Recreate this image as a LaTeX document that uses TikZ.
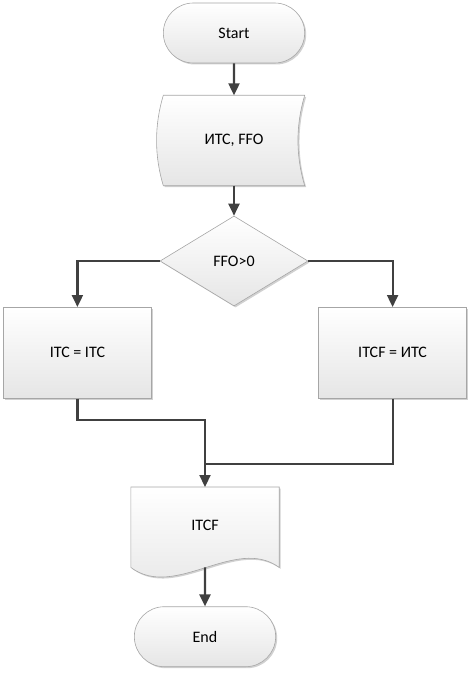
\documentclass[tikz,border=0pt]{standalone}
\usepackage{fontspec}
\setmainfont{Carlito}
\usetikzlibrary{shapes.geometric, shapes.misc, arrows.meta, positioning, calc, backgrounds, shadows}

\begin{document}
\begin{tikzpicture}[
    x=1pt, y=1pt,
    font=\fontsize{16}{19}\selectfont,
    box/.style={
        draw=gray!70,
        line width=0.6pt,
        top color=white,
        bottom color=black!10,
        drop shadow={shadow xshift=1.5pt, shadow yshift=-1.5pt, opacity=0.18, fill=black}
    },
    terminal/.style={
        box,
        rounded rectangle,
        minimum width=148pt,
        minimum height=60pt
    },
    process/.style={
        box,
        rectangle,
        minimum width=148pt,
        minimum height=91pt
    },
    decision/.style={
        box,
        diamond,
        minimum width=148pt,
        minimum height=90pt,
        inner sep=0pt
    },
    holder/.style={rectangle, inner sep=0pt},
    flowline/.style={draw=black!75, line width=2.2pt},
    arrow/.style={flowline, -{Triangle[length=12pt, width=11pt]}}
]

    \useasboundingbox (0,0) rectangle (474,-674);

    \node (start) [terminal] at (234,-33) {Start};
    \node (data) [holder, below=32pt of start, minimum width=141pt, minimum height=90pt] {ИТС, FFO};
    \node (decide) [decision, below=30pt of data] {FFO>0};
    \node (ltc) [process, below left=46pt and 8pt of decide.west] {ITC = ITC};
    \node (rtc) [process, below right=46pt and 10pt of decide.east] {ITCF = ИТС};
    \node (doc) [holder, minimum width=148pt, minimum height=80pt, anchor=north] at (205,-487) {\raisebox{4pt}{ITCF}};
    \node (finish) [terminal, below=39pt of doc] {End};

    % drawn shapes behind the text holders
    \begin{scope}[on background layer]
        \path [box] (data.north west) -- (data.north east)
            .. controls +(-9,-30) and +(-9,30) .. (data.south east)
            -- (data.south west)
            .. controls +(-9,30) and +(-9,-30) .. (data.north west) -- cycle;
        \path [box] (doc.south east) -- (doc.north east) -- (doc.north west) -- (doc.south west)
            .. controls +(44,-33) and +(-44,32) .. (doc.south east) -- cycle;
    \end{scope}

    \coordinate (ljoin) at (205,-420);
    \coordinate (rjoin) at (205,-464);

    \draw [arrow] (start) -- (data);
    \draw [arrow] (data) -- (decide);

    \draw [arrow] (decide.west) -| (ltc.north);
    \draw [arrow] (decide.east) -| (rtc.north);

    \draw [arrow] (ltc.south) |- (ljoin) -- (doc.north);
    \draw [flowline] (rtc.south) |- (rjoin);

    \draw [arrow] (doc) -- (finish);

\end{tikzpicture}
\end{document}
